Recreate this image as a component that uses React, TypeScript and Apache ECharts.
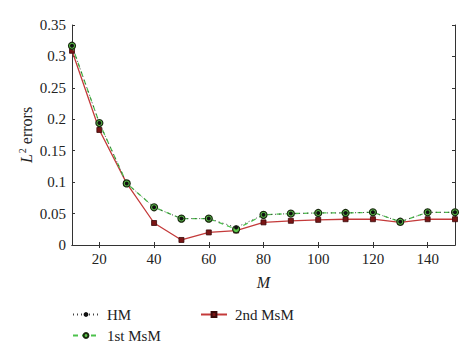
import React, { useEffect, useRef } from "react";
import * as echarts from "echarts";

const mValues = [10, 20, 30, 40, 50, 60, 70, 80, 90, 100, 110, 120, 130, 140, 150];
const hmErrors = [0.317, 0.194, 0.098, 0.06, 0.042, 0.042, 0.028, 0.048, 0.05, 0.051, 0.051, 0.052, 0.037, 0.052, 0.052];
const msm1Errors = [0.317, 0.194, 0.098, 0.06, 0.042, 0.042, 0.025, 0.048, 0.05, 0.051, 0.051, 0.052, 0.037, 0.052, 0.052];
const msm2Errors = [0.309, 0.183, 0.098, 0.035, 0.008, 0.02, 0.023, 0.036, 0.0385, 0.04, 0.041, 0.041, 0.036, 0.041, 0.041];
const xTickValues = [20, 40, 60, 80, 100, 120, 140];

const FONT = "'Liberation Serif', 'DejaVu Serif', serif";
const AXIS_COLOR = "#333";
const TEXT_COLOR = "#222";

export default function App() {
  const ref = useRef<HTMLDivElement>(null);
  useEffect(() => {
    if (!ref.current) return;
    const chart = echarts.init(ref.current, undefined, { renderer: "svg" });
    const pair = (arr: number[]) => mValues.map((m, i) => [m, arr[i]]);
    const xBase = {
      type: "value" as const,
      min: 10,
      max: 150,
      splitLine: { show: false },
      axisLine: { lineStyle: { color: AXIS_COLOR, width: 1 } },
      axisTick: { inside: true, length: 3, customValues: xTickValues, lineStyle: { color: AXIS_COLOR } },
    };
    const yBase = {
      type: "value" as const,
      min: 0,
      max: 0.35,
      interval: 0.05,
      splitLine: { show: false },
      axisLine: { show: true, lineStyle: { color: AXIS_COLOR, width: 1 } },
      axisTick: { show: true, inside: true, length: 3, lineStyle: { color: AXIS_COLOR } },
    };
    const legendText = { fontFamily: FONT, fontSize: 15, color: TEXT_COLOR, padding: [0, 0, 0, 3] };
    chart.setOption({
      animation: false,
      backgroundColor: "#fff",
      grid: { left: 72, top: 25, right: 19, bottom: 116 },
      xAxis: [
        {
          ...xBase,
          position: "bottom",
          name: "M",
          nameLocation: "middle",
          nameGap: 29,
          nameMoveOverlap: false,
          nameTextStyle: { fontFamily: FONT, fontSize: 16, fontStyle: "italic", color: TEXT_COLOR },
          axisLabel: { customValues: xTickValues, fontFamily: FONT, fontSize: 15, color: TEXT_COLOR, margin: 6 },
        },
        { ...xBase, position: "top", axisLabel: { show: false } },
      ],
      yAxis: [
        {
          ...yBase,
          position: "left",
          name: "{i|L}{s|2}{n| errors}",
          nameLocation: "middle",
          nameGap: 37,
          nameMoveOverlap: false,
          nameRotate: 90,
          nameTextStyle: {
            fontFamily: FONT,
            fontSize: 16,
            color: TEXT_COLOR,
            rich: {
              i: { fontFamily: FONT, fontSize: 16, fontStyle: "italic", color: TEXT_COLOR },
              s: { fontFamily: FONT, fontSize: 10, color: TEXT_COLOR, padding: [0, 0, 8, 1] },
              n: { fontFamily: FONT, fontSize: 16, color: TEXT_COLOR },
            },
          },
          axisLabel: { fontFamily: FONT, fontSize: 15, color: TEXT_COLOR, margin: 6 },
        },
        { ...yBase, position: "right", axisLabel: { show: false } },
      ],
      legend: [
        {
          data: ["HM", "1st MsM"],
          orient: "vertical",
          left: 72,
          top: 307,
          padding: 0,
          itemGap: 6,
          itemWidth: 26,
          itemHeight: 6,
          textStyle: legendText,
        },
        {
          data: ["2nd MsM"],
          orient: "vertical",
          left: 200,
          top: 307,
          padding: 0,
          itemWidth: 26,
          itemHeight: 6,
          textStyle: legendText,
        },
      ],
      series: [
        {
          name: "2nd MsM",
          type: "line",
          data: pair(msm2Errors),
          symbol: "rect",
          symbolSize: 5,
          lineStyle: { color: "#c43a3a", width: 1.3, type: "solid" },
          itemStyle: { color: "#7a1515", borderColor: "#3a0a0a", borderWidth: 0.8 },
          z: 2,
        },
        {
          name: "1st MsM",
          type: "line",
          data: pair(msm1Errors),
          symbol: "circle",
          symbolSize: 7,
          lineStyle: { color: "#4cc24c", width: 1.3, type: [5, 4] },
          itemStyle: { color: "#5cc84a", borderColor: "#1a2a10", borderWidth: 1.2 },
          z: 3,
        },
        {
          name: "HM",
          type: "line",
          data: pair(hmErrors),
          symbol: "circle",
          symbolSize: 4,
          lineStyle: { color: "#444", width: 1, type: [1, 3] },
          itemStyle: { color: "#111", borderColor: "#111", borderWidth: 0 },
          z: 4,
        },
      ],
    });
    return () => chart.dispose();
  }, []);
  return <div ref={ref} style={{ width: 474, height: 361, position: "absolute", left: 0, top: 0 }} />;
}
